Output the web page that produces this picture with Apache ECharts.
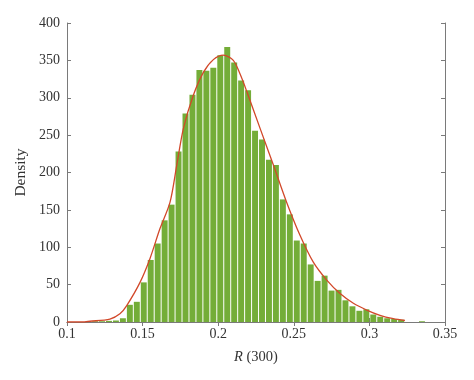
<!DOCTYPE html>
<html>
<head>
<meta charset="utf-8">
<script src="https://cdn.jsdelivr.net/npm/echarts@6/dist/echarts.min.js"></script>
<style>
html,body{margin:0;padding:0;background:#fff;}
#chart{width:474px;height:380px;}
</style>
</head>
<body>
<div id="chart"></div>
<script>
// Histogram bins (left edges) and densities
var binWidth = 0.0046;
var binLefts = [0.1166, 0.1212, 0.1258, 0.1304,
  0.1350, 0.1396, 0.1442, 0.1488, 0.1534, 0.1580, 0.1626, 0.1672, 0.1718, 0.1764,
  0.1810, 0.1856, 0.1902, 0.1948, 0.1994, 0.2040, 0.2086, 0.2132, 0.2178, 0.2224,
  0.2270, 0.2316, 0.2362, 0.2408, 0.2454, 0.2500, 0.2546, 0.2592, 0.2638, 0.2684,
  0.2730, 0.2776, 0.2822, 0.2868, 0.2914, 0.2960, 0.3006, 0.3052, 0.3098, 0.3144,
  0.3190, 0.3328];
var densities = [1, 1, 1.5, 2,
  5, 23, 27, 53, 83, 105, 136, 157, 228, 279,
  304, 337, 336, 340, 357, 368, 347, 323, 310, 256,
  244, 217, 210, 164, 144, 109, 105, 77, 55, 62,
  42, 43, 29, 21, 15, 17, 10, 7, 5, 4,
  3, 1];
// Fitted density curve
var curveX = [0.100, 0.110, 0.1152, 0.1284, 0.135, 0.1395, 0.1483, 0.1549, 0.1615, 0.1681,
  0.1726, 0.177, 0.1835, 0.1902, 0.1968, 0.2034, 0.210, 0.2144, 0.2188, 0.2277,
  0.2365, 0.2453, 0.2541, 0.2629, 0.2718, 0.2806, 0.2894, 0.2982, 0.307, 0.3158, 0.3235];
var curveY = [0, 0, 1, 4, 11, 22, 53, 85, 125, 160,
  210, 259, 303, 334, 351, 357, 350, 332, 309, 259,
  210, 160, 116, 80, 56, 38, 25, 16, 9, 4.5, 2];
var xTicks = [0.1, 0.15, 0.2, 0.25, 0.3, 0.35];
var yTicks = [0, 50, 100, 150, 200, 250, 300, 350, 400];

var barData = binLefts.map(function (l, i) { return [l, l + binWidth, densities[i]]; });
var lineData = curveX.map(function (x, i) { return [x, curveY[i]]; });

var font = 'Liberation Serif';
var axisCol = '#7a7a7a';
var txtCol = '#333';

var chart = echarts.init(document.getElementById('chart'));
chart.setOption({
  animation: false,
  backgroundColor: '#fff',
  grid: { left: 67, right: 29, top: 23, bottom: 58 },
  xAxis: [{
    type: 'value', min: xTicks[0], max: xTicks[xTicks.length - 1], interval: 0.05,
    axisLine: { lineStyle: { color: axisCol, width: 1 } },
    axisTick: { inside: true, length: 4, lineStyle: { color: axisCol } },
    splitLine: { show: false },
    axisLabel: { color: txtCol, fontFamily: font, fontSize: 14, margin: 5 },
    name: '{i|R} (300)', nameLocation: 'middle', nameGap: 28, nameMoveOverlap: false,
    nameTextStyle: { color: txtCol, fontFamily: font, fontSize: 14.5,
      rich: { i: { fontStyle: 'italic', fontFamily: font, fontSize: 14.5, color: txtCol } } }
  }, {
    type: 'value', position: 'top', min: xTicks[0], max: xTicks[xTicks.length - 1], interval: 0.05,
    axisLine: { lineStyle: { color: axisCol, width: 1 } },
    axisTick: { inside: true, length: 4, lineStyle: { color: axisCol } },
    splitLine: { show: false }, axisLabel: { show: false }
  }],
  yAxis: [{
    type: 'value', min: 0, max: 400, interval: 50,
    axisLine: { show: true, lineStyle: { color: axisCol, width: 1 } },
    axisTick: { show: true, inside: true, length: 4, lineStyle: { color: axisCol } },
    splitLine: { show: false },
    axisLabel: { color: txtCol, fontFamily: font, fontSize: 14, margin: 7 },
    name: 'Density', nameLocation: 'middle', nameGap: 38, nameRotate: 90, nameMoveOverlap: false,
    nameTextStyle: { color: txtCol, fontFamily: font, fontSize: 15.5 }
  }, {
    type: 'value', position: 'right', min: 0, max: 400, interval: 50,
    axisLine: { show: true, lineStyle: { color: axisCol, width: 1 } },
    axisTick: { show: true, inside: true, length: 4, lineStyle: { color: axisCol } },
    splitLine: { show: false }, axisLabel: { show: false }
  }],
  series: [{
    type: 'custom',
    xAxisIndex: 0, yAxisIndex: 0,
    encode: { x: [0, 1], y: 2 },
    data: barData,
    renderItem: function (params, api) {
      var p0 = api.coord([api.value(0), api.value(2)]);
      var p1 = api.coord([api.value(1), 0]);
      return {
        type: 'rect',
        shape: { x: p0[0], y: p0[1], width: Math.max(p1[0] - p0[0] - 1, 0.5), height: p1[1] - p0[1] },
        style: { fill: '#74ad38' }
      };
    },
    z: 2
  }, {
    type: 'line',
    xAxisIndex: 0, yAxisIndex: 0,
    data: lineData,
    smooth: 0.3,
    showSymbol: false,
    lineStyle: { color: '#d2482a', width: 1.3 },
    z: 3
  }]
});
</script>
</body>
</html>
